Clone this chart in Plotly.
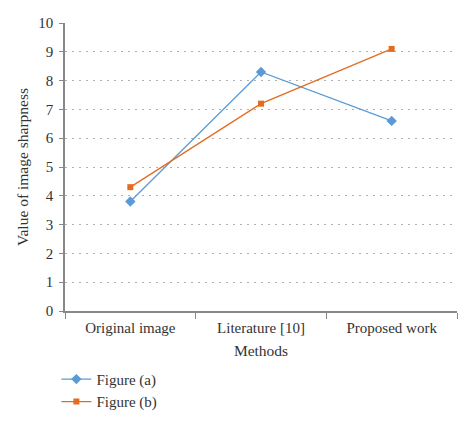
import plotly.graph_objects as go

methods = ["Original image", "Literature [10]", "Proposed work"]
figure_a = [3.8, 8.3, 6.6]
figure_b = [4.3, 7.2, 9.1]

fig = go.Figure()
fig.add_trace(go.Scatter(x=methods, y=figure_a, name="Figure (a)", mode="lines+markers",
                         line=dict(color="#5B9BD5", width=1.3),
                         marker=dict(symbol="diamond", size=8, color="#5B9BD5")))
fig.add_trace(go.Scatter(x=methods, y=figure_b, name="Figure (b)", mode="lines+markers",
                         line=dict(color="#E46C1E", width=1.3),
                         marker=dict(symbol="square", size=6, color="#E46C1E")))

# page body has an 8px margin, so the figure is sized/offset to compensate
fig.update_layout(
    width=466, height=418,
    margin=dict(l=57, r=17, t=15, b=115, autoexpand=False),
    plot_bgcolor="white", paper_bgcolor="white",
    font=dict(family="Liberation Serif", size=15, color="#333"),
    showlegend=True,
    legend=dict(orientation="v", x=-0.022, y=-0.18, xanchor="left", yanchor="top",
                font=dict(size=15), tracegroupgap=0, itemwidth=30),
)
fig.update_xaxes(
    title=dict(text="Methods", standoff=10, font=dict(size=15.5)),
    range=[-0.5, 2.5], automargin=True, ticklabelstandoff=2,
    showline=True, linecolor="#888", linewidth=1.5,
    ticks="outside", tickson="boundaries", ticklen=6, tickcolor="#888",
    showgrid=False,
)
fig.update_yaxes(
    title=dict(text="Value of image sharpness", standoff=6, font=dict(size=15.5)),
    range=[0, 10], dtick=1, automargin=True, ticklabelstandoff=3,
    showline=True, linecolor="#888", linewidth=1.5,
    ticks="outside", ticklen=4, tickcolor="#888",
    showgrid=True, gridcolor="#b0b0b0", griddash="2px,5px", gridwidth=1.2,
    zeroline=False,
)

fig.write_html("out.html")
